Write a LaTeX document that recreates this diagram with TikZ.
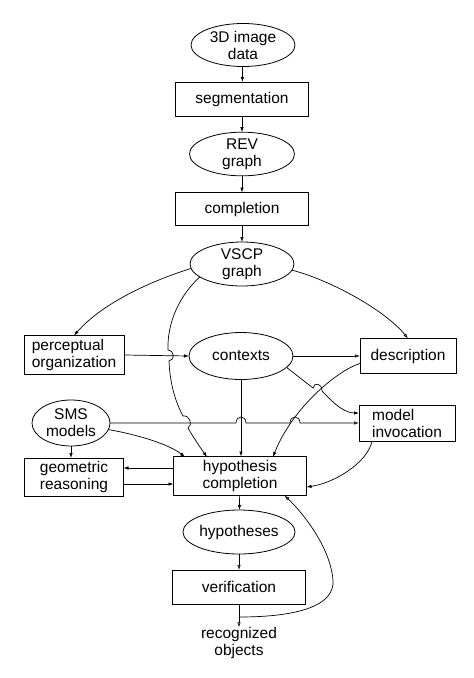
\documentclass[tikz,border=0pt]{standalone}
\usepackage{fontspec}
\setmainfont{Liberation Sans}
\usetikzlibrary{shapes.geometric,arrows.meta}
\begin{document}
\begin{tikzpicture}[x=1pt,y=-1pt,
  font=\fontsize{15.5}{17}\selectfont,
  every node/.style={inner sep=0pt, outer sep=0pt},
  ell/.style={ellipse, draw, line width=0.8pt, align=center},
  box/.style={rectangle, draw, line width=0.8pt, align=center},
  lbox/.style={rectangle, draw, line width=0.8pt, align=left},
  con/.style={line width=0.7pt},
  arr/.style={con, -{Latex[length=5pt,width=3.5pt]}},
  oarr/.style={con, -{Latex[open,length=5pt,width=3.5pt]}}]
\useasboundingbox (0,0) rectangle (474,678);
% nodes
\node[ell, minimum width=104pt, minimum height=43pt] (d3) at (243,45) {3D image\\data};
\node[box, minimum width=133pt, minimum height=34pt] (seg) at (242,99) {segmentation};
\node[ell, minimum width=105pt, minimum height=42pt] (rev) at (242,154) {REV\\graph};
\node[box, minimum width=133pt, minimum height=33pt] (comp) at (242,209) {completion};
\node[ell, minimum width=104pt, minimum height=44pt] (vscp) at (242,264) {VSCP\\graph};
\node[lbox, minimum width=100pt, minimum height=39pt] (perc) at (74,355) {perceptual\\organization};
\node[ell, minimum width=104pt, minimum height=47pt] (ctx) at (241,356) {contexts};
\node[box, minimum width=96pt, minimum height=35pt] (desc) at (408,356) {description};
\node[ell, minimum width=78pt, minimum height=46pt] (sms) at (71,423) {SMS\\models};
\node[lbox, minimum width=96pt, minimum height=36pt] (minv) at (407,423) {model\\invocation};
\node[lbox, minimum width=99pt, minimum height=38pt] (geo) at (74,477) {geometric\\reasoning};
\node[box, minimum width=133pt, minimum height=39pt] (hyp) at (240,476) {hypothesis\\completion};
\node[ell, minimum width=105pt, minimum height=44pt] (hyps) at (239,532) {hypotheses};
\node[box, minimum width=133pt, minimum height=34pt] (ver) at (239,587) {verification};
\node[align=center] (rec) at (239,643) {recognized\\objects};
% helper coordinates
\coordinate (h1) at ([yshift=8pt]hyp.west);
\coordinate (h2) at ([yshift=-8pt]hyp.west);
\coordinate (fb) at ([yshift=-13pt]ver.south);
\coordinate (hse) at ([xshift=-22pt]hyp.south east);
\coordinate (m1) at ([yshift=10pt]minv.west);
\coordinate (dsw) at ([yshift=10pt]desc.south west);
\coordinate (msw) at ([xshift=13pt]minv.south west);
\coordinate (he) at ([yshift=-11pt]hyp.east);
% main chain
\draw[arr] (d3) -- (seg);
\draw[arr] (seg) -- (rev);
\draw[arr] (rev) -- (comp);
\draw[arr] (comp) -- (vscp);
\draw[arr] (hyp) -- (hyps);
\draw[oarr] (hyps) -- (ver);
\draw[oarr] (ver) -- (rec);
% VSCP branches
\draw[arr] (vscp.185) .. controls (160,278) and (105,300) .. (perc.north);
\draw[oarr] (vscp.-7) .. controls (330,280) and (385,310) .. (desc.north);
\draw[arr] (vscp.197) .. controls (180,295) and (167,322) .. (168,350)
  .. controls (175,351) and (175,360) .. (169,361)
  .. controls (170,385) and (176,403) .. (183,416)
  .. controls (190,415) and (193,425) .. (188,428)
  .. controls (195,440) and (202,450) .. (207,457);
% contexts
\draw[arr] (perc.east) -- (ctx.west);
\draw[oarr] (ctx.east) -- (desc.west);
\draw[arr] (ctx.south) -- (ctx.south |- hyp.north);
\draw[arr] (ctx.-14) -- (313,388)
  .. controls (314,382) and (322,383) .. (322,391)
  .. controls (335,405) and (345,413) .. (m1);
% description -> hypothesis completion
\draw[arr] (dsw) .. controls (338,370) and (292,408) .. (273,457);
% SMS models
\draw[oarr] (sms.east) -- (236,423)
  .. controls (236,415) and (246,415) .. (246,423) -- (290,423)
  .. controls (290,415) and (300,415) .. (300,423) -- (minv.west);
\draw[arr] (sms.-10) .. controls (140,435) and (170,445) .. (185,457);
\draw[arr] (sms.south) -- (sms.south |- geo.north);
% geometric reasoning
\draw[arr] (h1) -- (h1 -| geo.east);
\draw[arr] (h2 -| geo.east) -- (h2);
% model invocation -> hypothesis completion
\draw[arr] (msw) .. controls (368,462) and (335,483) .. (he);
% feedback loop
\draw[oarr] (fb) .. controls (300,617) and (335,605) .. (333,580)
  .. controls (330,545) and (300,510) .. (hse);
\end{tikzpicture}
\end{document}
